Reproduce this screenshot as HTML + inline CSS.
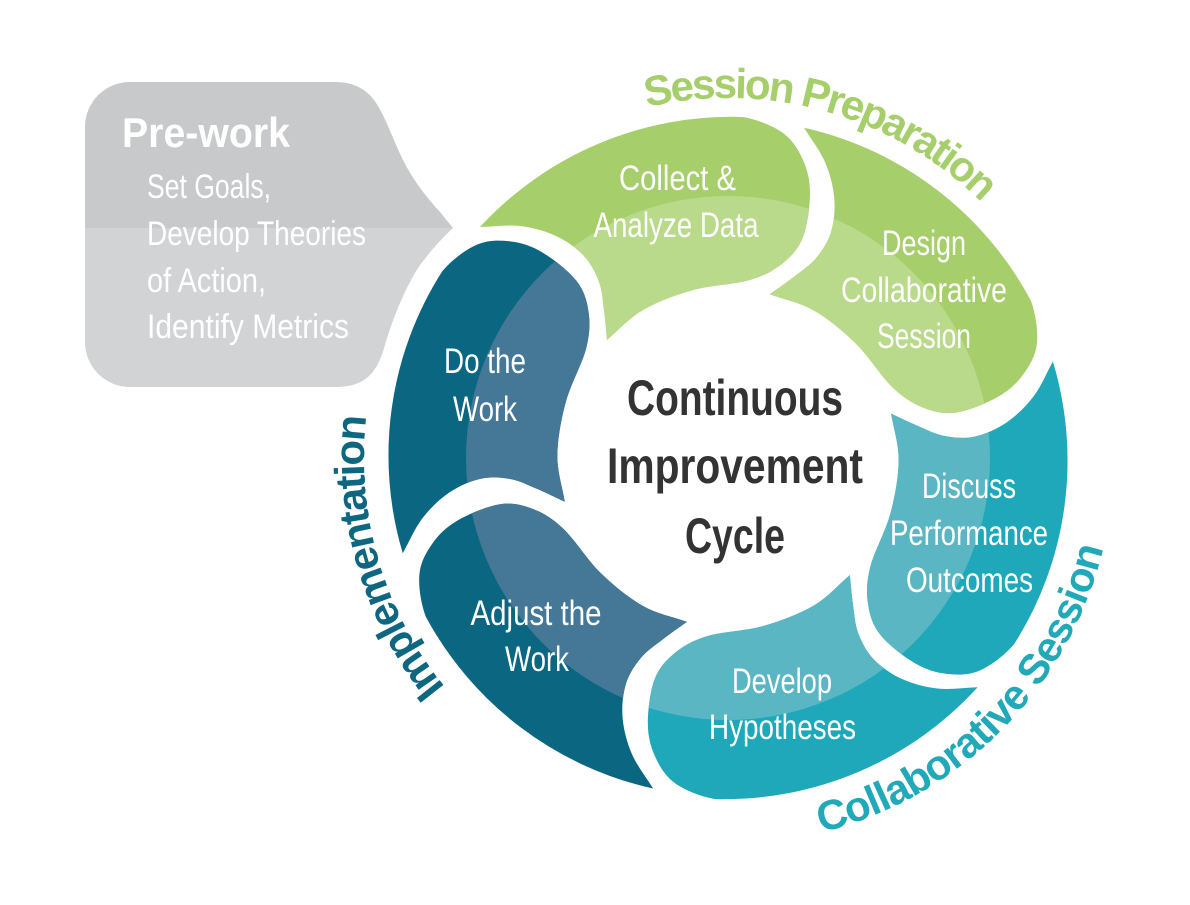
<!DOCTYPE html>
<html>
<head>
<meta charset="utf-8">
<style>
  html,body{margin:0;padding:0;background:#ffffff;}
  svg{display:block;}
  .lbl{font-family:"Liberation Sans",sans-serif;font-size:35px;fill:#ffffff;}
  .pw{font-family:"Liberation Sans",sans-serif;font-size:34px;fill:#ffffff;}
  .ctr{font-family:"Liberation Sans",sans-serif;font-weight:bold;font-size:50px;fill:#333333;}
  .ttl{font-family:"Liberation Sans",sans-serif;font-weight:bold;font-size:42px;}
</style>
</head>
<body>
<svg width="1190" height="905" viewBox="0 0 1190 905" xmlns="http://www.w3.org/2000/svg">
  <defs>
    <path id="p" d="M480,227 A342,342 0 0 1 743,117 C757.2,119.5 773,125.8 783,133 C793,140.2 798.5,150 803,160 C807.5,170 810,180.2 810,193 C810,205.8 807.5,225.3 803,237 C798.5,248.7 791.8,255.8 783,263 C774.2,270.2 765,275.5 750,280 C735,284.5 710.8,285 693,290 C675.2,295 657.3,301.7 643,310 C628.7,318.3 619,330 607,340 C606,330 605.3,319.7 604,310 C602.7,300.3 602.3,291 599,282 C595.7,273 591.2,263.7 584,256 C576.8,248.3 566.7,241 556,236 C545.3,231 532.7,227.5 520,226 C507.3,224.5 493.3,226.7 480,227 Z"/>
    <clipPath id="lc"><circle cx="728" cy="458" r="262"/></clipPath>
    <linearGradient id="gg" gradientUnits="userSpaceOnUse" x1="0" y1="82" x2="0" y2="387">
      <stop offset="0" stop-color="#c8c9cb"/>
      <stop offset="0.4787" stop-color="#c8c9cb"/>
      <stop offset="0.4787" stop-color="#d2d3d5"/>
      <stop offset="1" stop-color="#d2d3d5"/>
    </linearGradient>
    <path id="arcSP" d="M647,107.2 A360,360 0 0 1 978.1,199.1"/>
    <path id="arcIM" d="M445.1,687.1 A364,364 0 0 1 366,420"/>
    <path id="arcCS" d="M821.4,832.5 A386,386 0 0 0 1102.8,550.1"/>
  </defs>

  <!-- Pre-work bubble -->
  <path d="M130,82 L335,82 C352,82 365,88 374,100 C385,115 393,140 403,160 C412,178 425,196 440,212 L453,228 C440,240 430,252 420,265 C405,288 393,318 385,345 C378,370 368,387 335,387 L130,387 A45,45 0 0 1 85,342 L85,127 A45,45 0 0 1 130,82 Z" fill="url(#gg)"/>
  <text x="122" y="147" font-family="Liberation Sans, sans-serif" font-weight="bold" font-size="42" fill="#ffffff" textLength="168" lengthAdjust="spacingAndGlyphs">Pre-work</text>
  <text class="pw" x="147" y="198" textLength="124" lengthAdjust="spacingAndGlyphs">Set Goals,</text>
  <text class="pw" x="147" y="245" textLength="219" lengthAdjust="spacingAndGlyphs">Develop Theories</text>
  <text class="pw" x="147" y="292" textLength="119" lengthAdjust="spacingAndGlyphs">of Action,</text>
  <text class="pw" x="147" y="338" textLength="202" lengthAdjust="spacingAndGlyphs">Identify Metrics</text>

  <!-- Petals dark -->
  <use href="#p" fill="#a6ce6a"/>
  <use href="#p" fill="#a6ce6a" transform="rotate(60 728 458)"/>
  <use href="#p" fill="#1fa8b9" transform="rotate(120.5 728 458)"/>
  <use href="#p" fill="#1fa8b9" transform="rotate(179.6 728 458)"/>
  <use href="#p" fill="#0b6781" transform="rotate(239.8 728 458)"/>
  <use href="#p" fill="#0b6781" transform="rotate(300.7 728 458)"/>

  <!-- Petals light (inner band) -->
  <g clip-path="url(#lc)">
    <use href="#p" fill="#b9da8a"/>
    <use href="#p" fill="#b9da8a" transform="rotate(60 728 458)"/>
    <use href="#p" fill="#5bb6c3" transform="rotate(120.5 728 458)"/>
    <use href="#p" fill="#5bb6c3" transform="rotate(179.6 728 458)"/>
    <use href="#p" fill="#457896" transform="rotate(239.8 728 458)"/>
    <use href="#p" fill="#457896" transform="rotate(300.7 728 458)"/>
  </g>

  <!-- Petal labels -->
  <text class="lbl" x="677.5" y="190" text-anchor="middle" textLength="117" lengthAdjust="spacingAndGlyphs">Collect &amp;</text>
  <text class="lbl" x="676" y="237" text-anchor="middle" textLength="165" lengthAdjust="spacingAndGlyphs">Analyze Data</text>

  <text class="lbl" x="924" y="255" text-anchor="middle" textLength="84" lengthAdjust="spacingAndGlyphs">Design</text>
  <text class="lbl" x="924" y="302" text-anchor="middle" textLength="166" lengthAdjust="spacingAndGlyphs">Collaborative</text>
  <text class="lbl" x="924" y="348" text-anchor="middle" textLength="94" lengthAdjust="spacingAndGlyphs">Session</text>

  <text class="lbl" x="969" y="498" text-anchor="middle" textLength="94" lengthAdjust="spacingAndGlyphs">Discuss</text>
  <text class="lbl" x="969" y="545" text-anchor="middle" textLength="158" lengthAdjust="spacingAndGlyphs">Performance</text>
  <text class="lbl" x="969.5" y="592" text-anchor="middle" textLength="127" lengthAdjust="spacingAndGlyphs">Outcomes</text>

  <text class="lbl" x="782" y="693" text-anchor="middle" textLength="100" lengthAdjust="spacingAndGlyphs">Develop</text>
  <text class="lbl" x="782.5" y="739" text-anchor="middle" textLength="147" lengthAdjust="spacingAndGlyphs">Hypotheses</text>

  <text class="lbl" x="536" y="625" text-anchor="middle" textLength="131" lengthAdjust="spacingAndGlyphs">Adjust the</text>
  <text class="lbl" x="537" y="671" text-anchor="middle" textLength="64" lengthAdjust="spacingAndGlyphs">Work</text>

  <text class="lbl" x="485" y="373" text-anchor="middle" textLength="82" lengthAdjust="spacingAndGlyphs">Do the</text>
  <text class="lbl" x="485" y="421" text-anchor="middle" textLength="64" lengthAdjust="spacingAndGlyphs">Work</text>

  <!-- Center title -->
  <text class="ctr" x="735" y="415" text-anchor="middle" textLength="216" lengthAdjust="spacingAndGlyphs">Continuous</text>
  <text class="ctr" x="735" y="483" text-anchor="middle" textLength="256" lengthAdjust="spacingAndGlyphs">Improvement</text>
  <text class="ctr" x="735" y="553" text-anchor="middle" textLength="100" lengthAdjust="spacingAndGlyphs">Cycle</text>

  <!-- Curved section titles -->
  <text class="ttl" fill="#a6ce6a" letter-spacing="-2.4"><textPath href="#arcSP">Session Preparation</textPath></text>
  <text class="ttl" fill="#0e6681" letter-spacing="-1.6"><textPath href="#arcIM">Implementation</textPath></text>
  <text class="ttl" fill="#21a8b9" letter-spacing="-0.9"><textPath href="#arcCS">Collaborative Session</textPath></text>
</svg>
</body>
</html>
